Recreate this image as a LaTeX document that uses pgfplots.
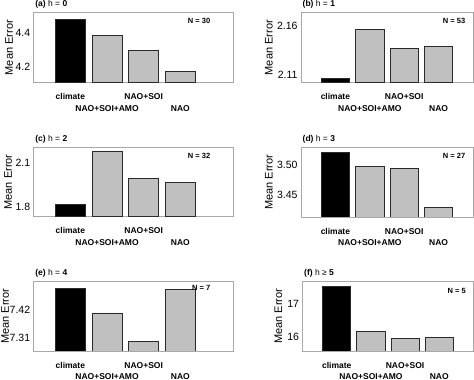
\documentclass[border=0pt]{standalone}
\usepackage{fontspec}
\setmainfont{Liberation Sans}
\usepackage{pgfplots}
\pgfplotsset{compat=1.18}
\definecolor{boxgray}{HTML}{A8A8A8}
\definecolor{bargray}{HTML}{C0C0C0}
\definecolor{edge}{HTML}{2A2A2A}
\newcommand\tickfont{\fontsize{10.5}{12}\selectfont}
\newcommand\labfont{\fontsize{11}{13}\selectfont}
\newcommand\catfont{\fontsize{8.5}{10}\selectfont\bfseries}
\newcommand\nfont{\fontsize{7.5}{9}\selectfont\bfseries}
\newcommand\titfont{\fontsize{8.5}{10}\selectfont}
\pgfplotsset{
  panel/.style={
    scale only axis,
    clip mode=individual,
    axis line style={draw=boxgray, line width=0.8pt},
    major tick length=0pt,
    xmin=0,
    xtick={1,3}, xticklabels={climate,NAO+SOI},
    extra x ticks={2,4}, extra x tick labels={NAO+SOI+AMO,NAO},
    xticklabel style={font=\catfont, anchor=base, yshift=-17.3pt},
    extra x tick style={grid=none, xticklabel style={yshift=-11.7pt}},
    yticklabel style={font=\tickfont},
    ylabel={Mean Error},
    title style={at={(rel axis cs:0,1)}, anchor=base west, inner sep=0pt, xshift=1.5pt, font=\titfont},
  },
  leftp/.style={panel, width=199.5pt, xmax=5.44},
  rightp/.style={panel, width=172pt, xmax=5},
  gbar/.style={ybar, bar width=0.82, fill=bargray, draw=edge, line width=0.8pt},
  kbar/.style={ybar, bar width=0.82, fill=black, draw=edge, line width=0.8pt},
}
\begin{document}
\begin{tikzpicture}
\path[use as bounding box] (0,0) rectangle (474pt,380pt);
% (a)
\begin{axis}[leftp, at={(33.7pt,367.3pt)}, anchor=north west, height=70pt,
  ymin=4.11, ymax=4.515, ytick={4.2,4.4}, yticklabels={4.2,4.4},
  ylabel style={at={(axis description cs:-0.123,0.5)}, anchor=center, font=\labfont},
  title={\textbf{(a)} h = \textbf{0}}]
\addplot[kbar] coordinates {(1,4.479)};
\addplot[gbar] coordinates {(2,4.383) (3,4.297) (4,4.176)};
\node[anchor=east, inner sep=0pt, font=\nfont] at (rel axis cs:0.886,0.88) {N = 30};
\end{axis}
% (b)
\begin{axis}[rightp, at={(301pt,367.3pt)}, anchor=north west, height=70pt,
  ymin=2.1022, ymax=2.1736, ytick={2.11,2.16}, yticklabels={2.11,2.16},
  ylabel style={at={(axis description cs:-0.186,0.5)}, anchor=center, font=\labfont},
  title={\textbf{(b)} h = \textbf{1}}]
\addplot[kbar] coordinates {(1,2.1066)};
\addplot[gbar] coordinates {(2,2.1566) (3,2.1372) (4,2.1395)};
\node[anchor=east, inner sep=0pt, font=\nfont] at (rel axis cs:0.956,0.88) {N = 53};
\end{axis}
% (c)
\begin{axis}[leftp, at={(33.7pt,232.5pt)}, anchor=north west, height=69pt,
  ymin=1.730, ymax=2.2096, ytick={1.8,2.1}, yticklabels={1.8,2.1},
  ylabel style={at={(axis description cs:-0.128,0.5)}, anchor=center, font=\labfont},
  title={\textbf{(c)} h = \textbf{2}}]
\addplot[kbar] coordinates {(1,1.814)};
\addplot[gbar] coordinates {(2,2.179) (3,1.992) (4,1.969)};
\node[anchor=east, inner sep=0pt, font=\nfont] at (rel axis cs:0.886,0.88) {N = 32};
\end{axis}
% (d)
\begin{axis}[rightp, at={(301pt,232.5pt)}, anchor=north west, height=69.5pt,
  ymin=3.4133, ymax=3.5295, ytick={3.45,3.50}, yticklabels={3.45,3.50},
  ylabel style={at={(axis description cs:-0.186,0.5)}, anchor=center, font=\labfont},
  title={\textbf{(d)} h = \textbf{3}}]
\addplot[kbar] coordinates {(1,3.521)};
\addplot[gbar] coordinates {(2,3.4983) (3,3.4943) (4,3.4300)};
\node[anchor=east, inner sep=0pt, font=\nfont] at (rel axis cs:0.956,0.88) {N = 27};
\end{axis}
% (e)
\begin{axis}[leftp, at={(33.7pt,98.5pt)}, anchor=north west, height=69.5pt,
  ymin=7.261, ymax=7.527, ytick={7.31,7.42}, yticklabels={7.31,7.42},
  ylabel style={at={(axis description cs:-0.143,0.5)}, anchor=center, font=\labfont},
  title={\textbf{(e)} h = \textbf{4}}]
\addplot[kbar] coordinates {(1,7.499)};
\addplot[gbar] coordinates {(2,7.4065) (3,7.297) (4,7.4965)};
\node[anchor=east, inner sep=0pt, font=\nfont] at (rel axis cs:0.886,0.91) {N = 7};
\end{axis}
% (f)
\begin{axis}[rightp, at={(302.5pt,98.5pt)}, anchor=north west, height=69.5pt, width=171pt,
  ymin=15.553, ymax=17.694, ytick={16,17}, yticklabels={16,17},
  ylabel style={at={(axis description cs:-0.141,0.5)}, anchor=center, font=\labfont},
  title={\textbf{(f)} h ≥ \textbf{5}}]
\addplot[kbar] coordinates {(1,17.541)};
\addplot[gbar] coordinates {(2,16.153) (3,15.951) (4,15.98)};
\node[anchor=east, inner sep=0pt, font=\nfont] at (rel axis cs:0.956,0.87) {N = 5};
\end{axis}
\end{tikzpicture}
\end{document}
